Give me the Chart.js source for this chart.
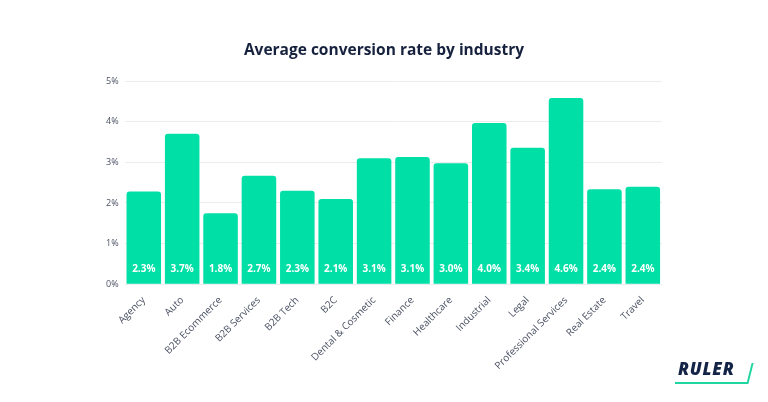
<!DOCTYPE html>
<html>
<head>
<meta charset="utf-8">
<script src="https://cdn.jsdelivr.net/npm/chart.js@4/dist/chart.umd.min.js"></script>
<style>
  html, body { margin: 0; padding: 0; background: #fff; }
  #wrap { position: relative; width: 768px; height: 402px; }
  #title { position: absolute; left: 0; top: 38px; width: 768px; text-align: center; font-family: "Open Sans", sans-serif; font-weight: 700; font-size: 15.5px; line-height: 22px; color: #16213d; }
  #logo { position: absolute; left: 675px; top: 359px; width: 80px; height: 26px; }
  #logo .txt { position: absolute; left: 3px; top: 0; font-family: "Open Sans", sans-serif; font-weight: 800; font-style: italic; font-size: 17px; line-height: 20px; color: #142447; letter-spacing: 0.8px; }
  #logo .bar { position: absolute; left: 0; top: 23px; width: 72px; height: 2px; background: #1fd6a0; }
  #logo .slash { position: absolute; left: 74px; top: 4px; width: 2px; height: 21px; background: #1fd6a0; transform: skewX(-14deg); }
</style>
</head>
<body>
<div id="wrap">
  <canvas id="chart" width="768" height="402"></canvas>
  <div id="title">Average conversion rate by industry</div>
  <div id="logo"><div class="txt">RULER</div><div class="bar"></div><div class="slash"></div></div>
</div>
<script>
  const industries = ["Agency", "Auto", "B2B Ecommerce", "B2B Services", "B2B Tech", "B2C",
    "Dental & Cosmetic", "Finance", "Healthcare", "Industrial", "Legal",
    "Professional Services", "Real Estate", "Travel"];
  const rates = [2.28, 3.7, 1.75, 2.67, 2.3, 2.1, 3.1, 3.13, 2.98, 3.97, 3.36, 4.58, 2.34, 2.4];
  const rateLabels = ["2.3%", "3.7%", "1.8%", "2.7%", "2.3%", "2.1%", "3.1%", "3.1%",
    "3.0%", "4.0%", "3.4%", "4.6%", "2.4%", "2.4%"];

  const barLabels = {
    id: "barLabels",
    afterDatasetsDraw(chart) {
      const ctx = chart.ctx;
      const meta = chart.getDatasetMeta(0);
      const y0 = chart.scales.y.getPixelForValue(0);
      ctx.save();
      ctx.fillStyle = "#ffffff";
      ctx.font = "bold 10px 'Open Sans', sans-serif";
      ctx.textAlign = "center";
      ctx.textBaseline = "middle";
      meta.data.forEach((bar, i) => {
        ctx.fillText(rateLabels[i], bar.x, y0 - 15);
      });
      ctx.restore();
    },
  };

  new Chart(document.getElementById("chart"), {
    type: "bar",
    data: {
      labels: industries,
      datasets: [{
        data: rates,
        backgroundColor: "#00dfa6",
        borderRadius: { topLeft: 3, topRight: 3 },
        borderSkipped: "bottom",
        categoryPercentage: 0.9,
        barPercentage: 1.0,
      }],
    },
    options: {
      responsive: false,
      animation: false,
      layout: { padding: { left: 100, right: 106, top: 81, bottom: 28 } },
      plugins: {
        legend: { display: false },
        tooltip: { enabled: false },
      },
      scales: {
        x: {
          grid: { display: false },
          border: { display: false },
          ticks: {
            color: "#4a5163",
            font: { family: "'Open Sans', sans-serif", size: 10 },
            maxRotation: 45,
            minRotation: 45,
            padding: 2,
          },
        },
        y: {
          min: 0,
          max: 5,
          border: { display: false },
          grid: { color: "#ececec", drawTicks: false },
          ticks: {
            stepSize: 1,
            color: "#4a5163",
            padding: 6,
            font: { family: "'Open Sans', sans-serif", size: 9 },
            callback: (v) => v + "%",
          },
        },
      },
    },
    plugins: [barLabels],
  });
</script>
</body>
</html>
